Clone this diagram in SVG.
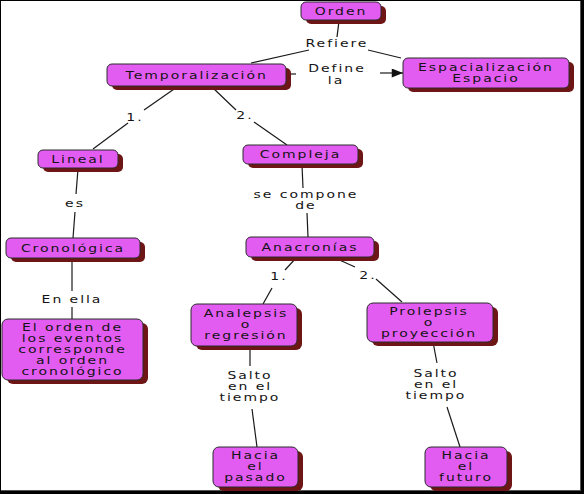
<svg xmlns="http://www.w3.org/2000/svg" width="584" height="494" viewBox="0 0 584 494">
<defs>
<style>
.sh{fill:#6e1616}
.bx{fill:#e35cf2;stroke:#2a2a2a;stroke-width:1}
text{font-family:"DejaVu Sans","Verdana",sans-serif;font-size:10px;fill:#141414;text-anchor:middle;letter-spacing:1.4px;transform-box:fill-box;transform-origin:center;transform:scaleX(1.4)}
.ln{stroke:#1a1a1a;stroke-width:1.2;fill:none}
</style>
<marker id="ah" viewBox="0 0 10 8" refX="10" refY="4" markerWidth="13" markerHeight="9" markerUnits="userSpaceOnUse" orient="auto">
<path d="M0,0 L10,4 L0,8 z" fill="#111"/>
</marker>
</defs>
<rect x="0" y="0" width="584" height="494" fill="#000"/>
<rect x="1" y="1" width="580" height="490" fill="#555"/>
<rect x="1" y="1" width="579" height="489" fill="#fff"/>

<g id="connectors">
<line class="ln" x1="339" y1="21" x2="337" y2="37"/>
<line class="ln" x1="309" y1="50" x2="251" y2="63"/>
<line class="ln" x1="368" y1="50" x2="401" y2="58"/>
<line class="ln" x1="287" y1="74" x2="296" y2="74"/>
<line class="ln" x1="380" y1="73" x2="403" y2="73" marker-end="url(#ah)"/>
<line class="ln" x1="177" y1="87" x2="144" y2="110"/>
<line class="ln" x1="128" y1="123" x2="93" y2="149"/>
<line class="ln" x1="212" y1="87" x2="236" y2="110"/>
<line class="ln" x1="254" y1="122" x2="287" y2="145"/>
<line class="ln" x1="78" y1="169" x2="76" y2="194"/>
<line class="ln" x1="75" y1="212" x2="73" y2="238"/>
<line class="ln" x1="302" y1="165" x2="303" y2="188"/>
<line class="ln" x1="307" y1="213" x2="308" y2="237"/>
<line class="ln" x1="72" y1="259" x2="72" y2="291"/>
<line class="ln" x1="72" y1="307" x2="72" y2="319"/>
<line class="ln" x1="296" y1="258" x2="285" y2="270"/>
<line class="ln" x1="272" y1="288" x2="263" y2="304"/>
<line class="ln" x1="335" y1="258" x2="355" y2="267"/>
<line class="ln" x1="376" y1="279" x2="402" y2="302"/>
<line class="ln" x1="250" y1="347" x2="250" y2="366"/>
<line class="ln" x1="252" y1="409" x2="257" y2="447"/>
<line class="ln" x1="433" y1="342" x2="437" y2="363"/>
<line class="ln" x1="447" y1="407" x2="460" y2="447"/>
<text x="337" y="47">Refiere</text>
<text x="337" y="72">Define</text>
<text x="336" y="84">la</text>
<text x="135" y="121">1.</text>
<text x="245" y="119">2.</text>
<text x="75" y="207">es</text>
<text x="306" y="198">se compone</text>
<text x="306" y="209.5">de</text>
<text x="72" y="303">En ella</text>
<text x="279" y="280">1.</text>
<text x="368" y="279">2.</text>
<text x="250" y="379.5">Salto</text>
<text x="250" y="390.5">en el</text>
<text x="250" y="401.5">tiempo</text>
<text x="436" y="377.5">Salto</text>
<text x="436" y="388.5">en el</text>
<text x="436" y="399.5">tiempo</text>
</g>

<g id="orden">
<rect class="sh" x="306" y="6" width="80" height="18" rx="5"/>
<rect class="bx" x="301" y="2" width="80" height="18" rx="5"/>
<text x="341" y="15">Orden</text>
</g>
<g id="temporalizacion">
<rect class="sh" x="112" y="68" width="179" height="22" rx="5"/>
<rect class="bx" x="107" y="64" width="179" height="22" rx="5"/>
<text x="196.5" y="79">Temporalización</text>
</g>
<g id="espacializacion">
<rect class="sh" x="408" y="62" width="166" height="30" rx="5"/>
<rect class="bx" x="403" y="58" width="166" height="30" rx="5"/>
<text x="486" y="71">Espacialización</text>
<text x="486" y="82">Espacio</text>
</g>
<g id="lineal">
<rect class="sh" x="43" y="154" width="80" height="18" rx="5"/>
<rect class="bx" x="38" y="150" width="80" height="18" rx="5"/>
<text x="78" y="163">Lineal</text>
</g>
<g id="compleja">
<rect class="sh" x="248" y="149" width="115" height="19" rx="5"/>
<rect class="bx" x="243" y="145" width="115" height="19" rx="5"/>
<text x="300.5" y="158.5">Compleja</text>
</g>
<g id="cronologica">
<rect class="sh" x="11" y="242" width="134" height="20" rx="5"/>
<rect class="bx" x="6" y="238" width="134" height="20" rx="5"/>
<text x="73" y="252">Cronológica</text>
</g>
<g id="anacronias">
<rect class="sh" x="251" y="241" width="128" height="20" rx="5"/>
<rect class="bx" x="246" y="237" width="128" height="20" rx="5"/>
<text x="310" y="251">Anacronías</text>
</g>
<g id="orden-eventos">
<rect class="sh" x="7" y="323" width="141" height="61" rx="6"/>
<rect class="bx" x="2" y="319" width="141" height="61" rx="6"/>
<text x="72.5" y="331">El orden de</text>
<text x="72.5" y="342">los eventos</text>
<text x="72.5" y="353">corresponde</text>
<text x="72.5" y="364">al orden</text>
<text x="72.5" y="375">cronológico</text>
</g>
<g id="analepsis">
<rect class="sh" x="196" y="308" width="106" height="42" rx="6"/>
<rect class="bx" x="191" y="304" width="106" height="42" rx="6"/>
<text x="246" y="317.5">Analepsis</text>
<text x="246" y="328.5">o</text>
<text x="246" y="339.5">regresión</text>
</g>
<g id="prolepsis">
<rect class="sh" x="372" y="307" width="126" height="39" rx="6"/>
<rect class="bx" x="367" y="303" width="126" height="39" rx="6"/>
<text x="429" y="315.5">Prolepsis</text>
<text x="429" y="326.5">o</text>
<text x="429" y="337.5">proyección</text>
</g>
<g id="pasado">
<rect class="sh" x="218" y="451" width="85" height="40" rx="6"/>
<rect class="bx" x="213" y="447" width="85" height="40" rx="6"/>
<text x="255.5" y="459">Hacia</text>
<text x="255.5" y="470">el</text>
<text x="255.5" y="481">pasado</text>
</g>
<g id="futuro">
<rect class="sh" x="430" y="451" width="82" height="40" rx="6"/>
<rect class="bx" x="425" y="447" width="82" height="40" rx="6"/>
<text x="466" y="459">Hacia</text>
<text x="466" y="470">el</text>
<text x="466" y="481">futuro</text>
</g>
</svg>
